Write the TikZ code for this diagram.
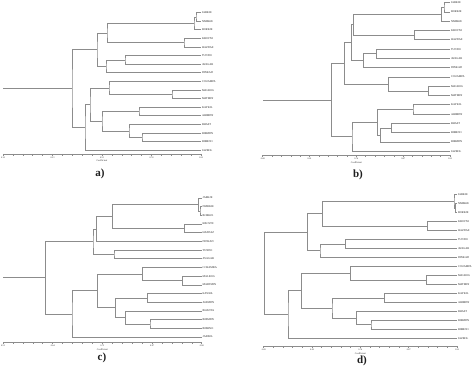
\documentclass[tikz,border=0pt]{standalone}
\usepackage{fontspec}
\setmainfont{Liberation Serif}
\usetikzlibrary{calc}
\definecolor{BranchGray}{HTML}{8C8C8C}
\definecolor{InkBlack}{HTML}{1E1E1E}

\tikzset{
  branch/.style={draw=BranchGray, line width=0.8pt},
  axisline/.style={draw=BranchGray, line width=0.5pt},
  leaf/.style={anchor=west, inner sep=0.8pt, font=\fontsize{2.8}{3.2}\selectfont, text=InkBlack},
  ticklab/.style={anchor=north, inner sep=0pt, font=\fontsize{2.2}{2.6}\selectfont, text=InkBlack},
  axlab/.style={anchor=north, inner sep=0pt, font=\fontsize{2.4}{2.8}\selectfont, text=InkBlack},
  panel/.style={font=\fontsize{11}{12}\selectfont\bfseries, text=InkBlack}
}

% bracket joining two branches at x = #2
\newcommand{\joint}[4]{%
  \path let \p1=(#3), \p2=(#4) in coordinate (#1) at (#2,{0.5*(\y1+\y2)});
  \draw[branch] (#3) -| (#1) |- (#4);}

% coefficient scale under a tree
\newcommand{\coefaxis}[5]{%
  \coordinate (#1-ax0) at (#2,#4);
  \coordinate (#1-ax1) at (#3,#4);
  \draw[axisline] (#1-ax0) -- (#1-ax1);
  \foreach \k in {0,...,20}
    \draw[axisline] ($(#1-ax0)!\k/20!(#1-ax1)$) -- ++(0,-1.6);
  \foreach \v [count=\k from 0] in {#5}
    \node[ticklab] (#1-t\k) at ($(#1-ax0)!\k/4!(#1-ax1)+(0,-2.4)$) {\v};
  \node[axlab] (#1-cf) at ($(#1-ax0)!0.5!(#1-ax1)+(0,-6)$) {Coefficient};}

\begin{document}
\begin{tikzpicture}[x=1pt, y=1pt]
\fill[white] (0,0) rectangle (474,-366);
\useasboundingbox (0,0) rectangle (474,-366);

% a)
\foreach \t [count=\i] in {JABKJE,NMBKJE,BORKJE,KBOVNI,HAZDAZ,TUNDO,AVAGAR,DINKAD,CCHAMPA,MALBOG,MATMIN,KAYKIL,AHIMDN,BHAST,BIBMDN,BIBRNO,JAZBOL}
  \node[leaf] (a\i) at (201,{-12.7-8.6*(\i-1)}) {\t};
\joint{a-jn}{196}{a1}{a2}
\joint{a-jnb}{194}{a-jn}{a3}
\joint{a-kh}{184}{a4}{a5}
\joint{a-g1}{107}{a-jnb}{a-kh}
\joint{a-ta}{125}{a6}{a7}
\joint{a-tad}{106}{a-ta}{a8}
\joint{a-up}{97}{a-g1}{a-tad}
\joint{a-mm}{172}{a10}{a11}
\joint{a-cmm}{109}{a9}{a-mm}
\joint{a-ka}{139}{a12}{a13}
\joint{a-bb}{142}{a15}{a16}
\joint{a-bbb}{129}{a14}{a-bb}
\joint{a-kab}{102}{a-ka}{a-bbb}
\joint{a-lo}{90}{a-cmm}{a-kab}
\joint{a-loj}{85}{a-lo}{a17}
\joint{a-r}{72}{a-up}{a-loj}
\coefaxis{a}{3}{201}{-154}{0.10,0.33,0.55,0.78,1.00}
\draw[branch] (a-r) -- (a-r -| a-ax0);
\node[panel] (a-lab) at (100,-174) {a)};

% b)
\foreach \t [count=\i] in {JABKJE,BORKJE,NMBKJE,KBOVNI,HAZDAZ,TUNDO,AVAGAR,DINKAD,CCHAMPA,MALBOG,MATMIN,KAYKIL,AHIMDN,BHAST,BIBRNO,BIBMDN,JAZBOL}
  \node[leaf] (b\i) at (450,{-2.7-9.29*(\i-1)}) {\t};
\joint{b-jb}{444}{b1}{b2}
\joint{b-jbn}{441.7}{b-jb}{b3}
\joint{b-kh}{414.3}{b4}{b5}
\joint{b-g1}{353.3}{b-jbn}{b-kh}
\joint{b-ta}{376.3}{b6}{b7}
\joint{b-tad}{363.7}{b-ta}{b8}
\joint{b-g2}{351.3}{b-g1}{b-tad}
\joint{b-mm}{428.7}{b10}{b11}
\joint{b-cmm}{388.7}{b9}{b-mm}
\joint{b-up}{344.7}{b-g2}{b-cmm}
\joint{b-ka}{413}{b12}{b13}
\joint{b-bb}{391.3}{b14}{b15}
\joint{b-bbb}{380.7}{b-bb}{b16}
\joint{b-kab}{377.3}{b-ka}{b-bbb}
\joint{b-lo}{352}{b-kab}{b17}
\joint{b-r}{331.7}{b-up}{b-lo}
\coefaxis{b}{262.7}{450}{-155.3}{0.48,0.61,0.74,0.87,1.00}
\draw[branch] (b-r) -- (b-r -| b-ax0);
\node[panel] (b-lab) at (358,-175) {b)};

% c)
\foreach \t [count=\i] in {JABKJE,NMBKJE,BORKJE,KBOVNI,HAZDAZ,DINKAD,TUNDO,AVAGAR,CCHAMBA,MALBOG,MARTMIN,KAYKIL,AHIMDN,BHANTA,BIBMDN,BIBRNO,JAZBOL}
  \node[leaf] (c\i) at (201.7,{-198-8.69*(\i-1)}) {\t};
\joint{c-nb}{200}{c2}{c3}
\joint{c-jnb}{198.5}{c1}{c-nb}
\joint{c-kh}{184.3}{c4}{c5}
\joint{c-g1}{112.7}{c-jnb}{c-kh}
\joint{c-g2}{96.3}{c-g1}{c6}
\joint{c-ta}{114}{c7}{c8}
\joint{c-up}{93}{c-g2}{c-ta}
\joint{c-mm}{182.3}{c10}{c11}
\joint{c-cmm}{142.3}{c9}{c-mm}
\joint{c-ka}{147.7}{c12}{c13}
\joint{c-bb}{150}{c15}{c16}
\joint{c-bbb}{125.3}{c14}{c-bb}
\joint{c-kab}{115.3}{c-ka}{c-bbb}
\joint{c-lo}{97.3}{c-cmm}{c-kab}
\joint{c-loj}{72}{c-lo}{c17}
\joint{c-r}{45.7}{c-up}{c-loj}
\coefaxis{c}{3}{201.7}{-342.3}{0.53,0.64,0.75,0.87,0.98}
\draw[branch] (c-r) -- (c-r -| c-ax0);
\node[panel] (c-lab) at (102,-358) {c)};

% d)
\foreach \t [count=\i] in {JABKJE,NMBKJE,BORKJE,KBOVNI,HAZDAZ,TUNDO,AVAGAR,DINKAD,CCHAMPA,MALBOG,MATMIN,KAYKIL,AHIMDN,BHAST,BIBMDN,BIBRNO,JAZBOL}
  \node[leaf] (d\i) at (457,{-194.7-8.975*(\i-1)}) {\t};
\joint{d-nb}{455.5}{d2}{d3}
\joint{d-jnb}{454}{d1}{d-nb}
\joint{d-kh}{427.3}{d4}{d5}
\joint{d-g1}{322.3}{d-jnb}{d-kh}
\joint{d-ta}{345.3}{d6}{d7}
\joint{d-tad}{320}{d-ta}{d8}
\joint{d-up}{307.7}{d-g1}{d-tad}
\joint{d-mm}{426.3}{d10}{d11}
\joint{d-cmm}{350.7}{d9}{d-mm}
\joint{d-ka}{384.7}{d12}{d13}
\joint{d-bb}{371}{d15}{d16}
\joint{d-bbb}{356.3}{d14}{d-bb}
\joint{d-kab}{332}{d-ka}{d-bbb}
\joint{d-lo}{301.3}{d-cmm}{d-kab}
\joint{d-loj}{288}{d-lo}{d17}
\joint{d-r}{264.3}{d-up}{d-loj}
\coefaxis{d}{263.7}{457}{-346.3}{0.49,0.62,0.74,0.87,1.00}
\node[panel] (d-lab) at (362,-361) {d)};
\end{tikzpicture}
\end{document}
